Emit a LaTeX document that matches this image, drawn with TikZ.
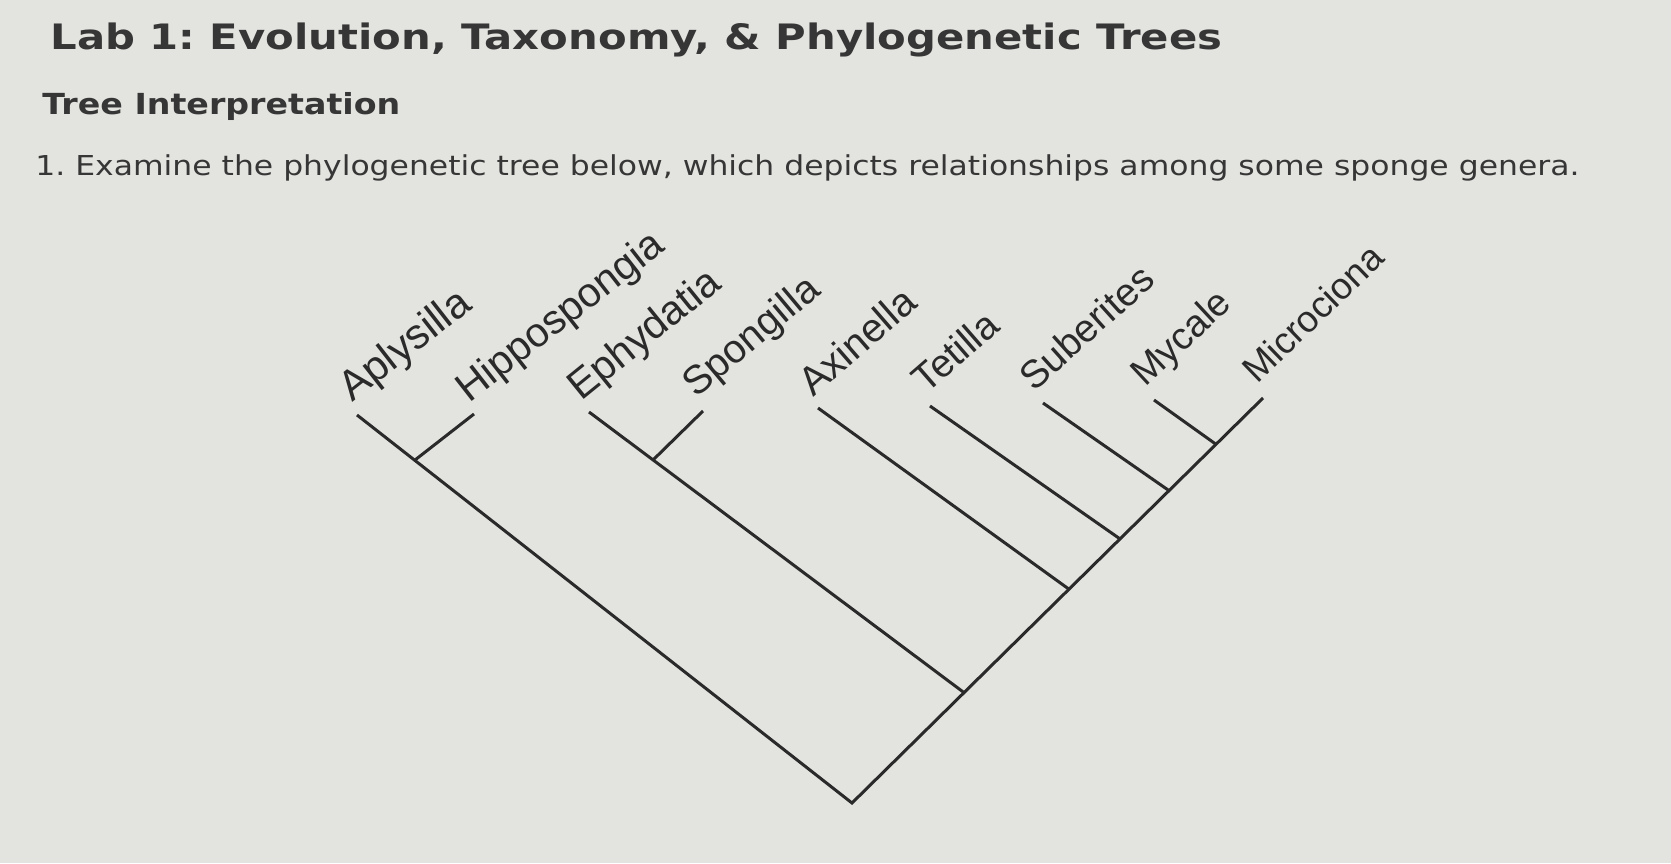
\documentclass[tikz,border=0pt]{standalone}
\usepackage{fontspec}
\usepackage{graphicx}
\setmainfont{DejaVu Sans}
\newfontfamily\labfont{Liberation Sans}
\newlength{\fitlen}
\newcommand{\fitw}[2]{\settowidth{\fitlen}{#2}\scalebox{\fpeval{(#1)/(\fitlen)}}[1]{#2}}
\definecolor{paper}{HTML}{E3E4DF}
\definecolor{ink}{HTML}{2A2A2A}
\definecolor{txt}{HTML}{363636}
\tikzset{
  branch/.style={draw=ink, line width=1.5pt, line join=miter},
  taxon/.style={text=ink, anchor=base west, inner sep=0pt},
  head/.style={text=txt, anchor=base west, inner sep=0pt}
}
\newcommand{\lab}[1]{\labfont\fontsize{#1}{#1}\selectfont}
\frenchspacing
\begin{document}
\begin{tikzpicture}[x=0.5pt,y=-0.5pt]
\fill[paper] (0,0) rectangle (1671,863);
\useasboundingbox (0,0) rectangle (1671,863);
% headings
\node[head] (title) at (50,49) {\fitw{586pt}{\bfseries\fontsize{17.5}{17.5}\selectfont Lab 1: Evolution, Taxonomy, \& Phylogenetic Trees}};
\node[head] (sub) at (42,114) {\fitw{179pt}{\bfseries\fontsize{14.5}{14.5}\selectfont Tree Interpretation}};
\node[head] (q1) at (35,175) {\fitw{772pt}{\fontsize{13.7}{13.7}\selectfont 1. Examine the phylogenetic tree below, which depicts relationships among some sponge genera.}};
% tree points
\coordinate (R) at (852,803);
\coordinate (tA) at (357,415);
\coordinate (tH) at (474,414);
\coordinate (AH) at (415,460);
\coordinate (tE) at (589,412);
\coordinate (tS) at (703,411);
\coordinate (ES) at (653,460);
\coordinate (tX) at (818,408);
\coordinate (tT) at (930,406);
\coordinate (tU) at (1043,403);
\coordinate (tY) at (1154,400);
\coordinate (tM) at (1263,398);
\coordinate (J1) at (964,692.6);
\coordinate (J2) at (1069,589.2);
\coordinate (J3) at (1120,538.9);
\coordinate (J4) at (1169,490.6);
\coordinate (J5) at (1216,444.3);
% branches
\draw[branch] (tA) -- (R) -- (tM);
\draw[branch] (tH) -- (AH);
\draw[branch] (tE) -- (J1);
\draw[branch] (tS) -- (ES);
\draw[branch] (tX) -- (J2);
\draw[branch] (tT) -- (J3);
\draw[branch] (tU) -- (J4);
\draw[branch] (tY) -- (J5);
% labels
\node[taxon, rotate=38, font=\lab{21}] (lA) at (352,403) {Aplysilla};
\node[taxon, rotate=38, font=\lab{20.5}] (lH) at (469,404) {Hippospongia};
\node[taxon, rotate=39, font=\lab{20.5}] (lE) at (581,402) {Ephydatia};
\node[taxon, rotate=40, font=\lab{20}] (lS) at (696,399) {Spongilla};
\node[taxon, rotate=41, font=\lab{20}] (lX) at (813,398) {Axinella};
\node[taxon, rotate=41, font=\lab{19.5}] (lT) at (926,395) {Tetilla};
\node[taxon, rotate=42, font=\lab{19.5}] (lU) at (1034,393) {Suberites};
\node[taxon, rotate=43, font=\lab{19}] (lY) at (1145,388) {Mycale};
\node[taxon, rotate=44, font=\lab{18.5}] (lM) at (1257,385) {Microciona};
\end{tikzpicture}
\end{document}
